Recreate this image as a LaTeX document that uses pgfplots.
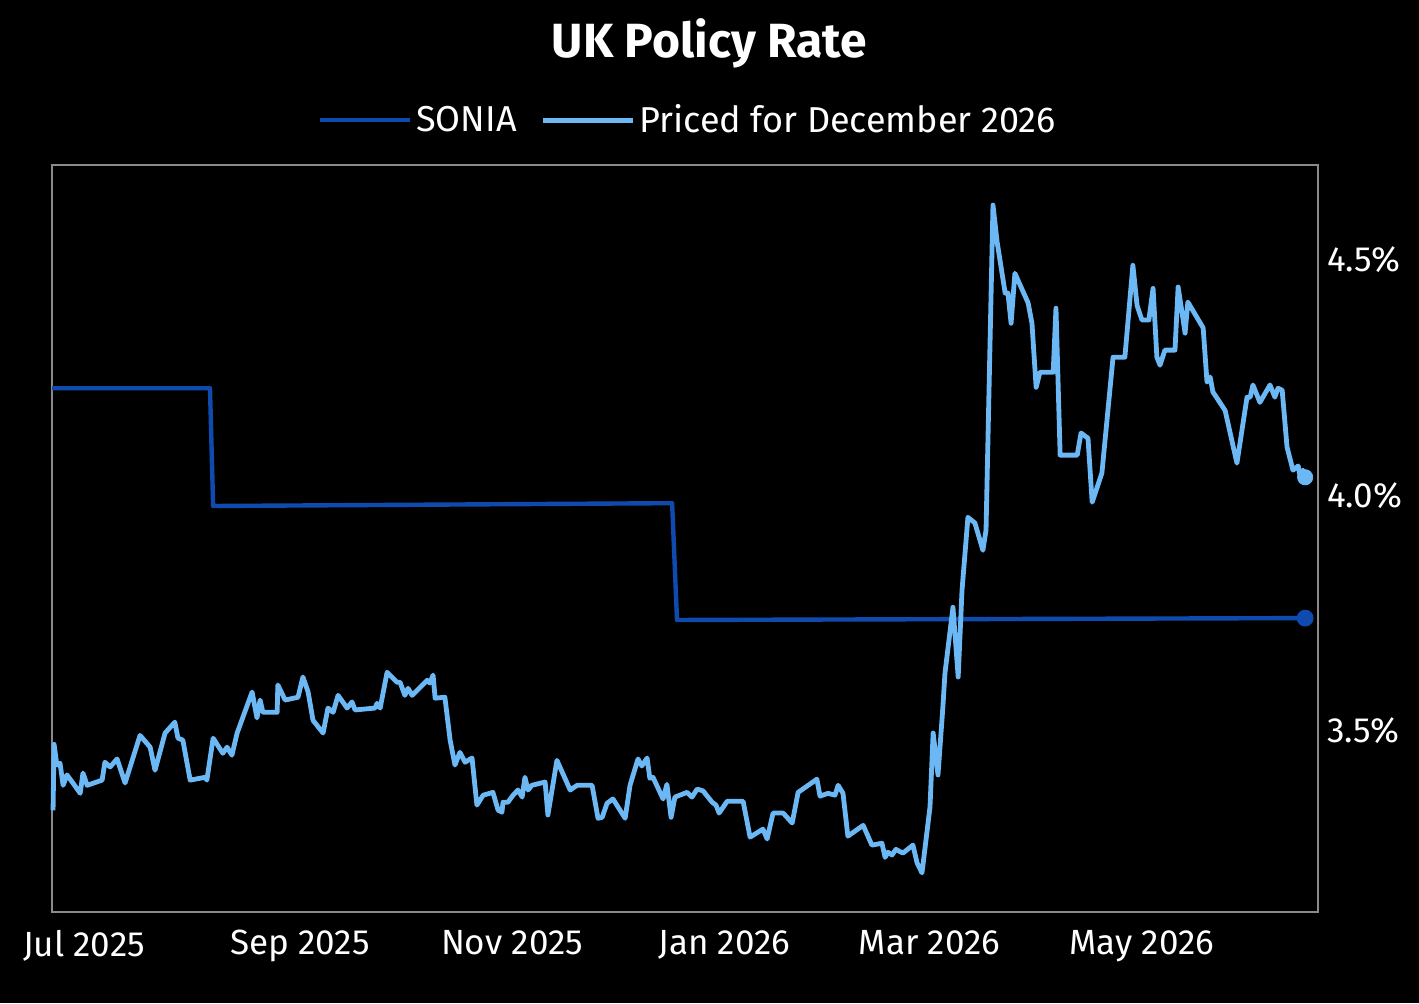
\documentclass[border=0pt]{standalone}
\usepackage{pgfplots}
\pgfplotsset{compat=1.18}
\usepackage{fontspec}
\setmainfont{Fira Sans}
\definecolor{sonia}{HTML}{0F4BAF}
\definecolor{priced}{HTML}{6BB8F5}
\definecolor{framec}{HTML}{8A8A8A}
\begin{document}
\begin{tikzpicture}
\path[fill=black, use as bounding box] (-26pt,-45.5pt) rectangle (683.5pt,456pt);
\begin{axis}[
  at={(0pt,0pt)}, anchor=south west,
  scale only axis, width=633pt, height=373.5pt,
  xmin=-9.2, xmax=354.6, ymin=3.115, ymax=4.701,
  axis line style={framec, line width=0.75pt},
  xtick={0,62,123,184,243,304},
  xticklabels={Jul 2025,Sep 2025,Nov 2025,Jan 2026,Mar 2026,May 2026},
  ytick={3.5,4.0,4.5},
  yticklabel pos=right,
  /pgf/number format/assume math mode=true,
  yticklabel={\pgfmathprintnumber[fixed,fixed zerofill,precision=1]{\tick}\%},
  major tick length=0pt,
  tick label style={text=white, font=\fontsize{17.5}{21}\selectfont},
  xticklabel style={yshift=-5.5pt},
  yticklabel style={xshift=1pt},
  clip=false,
  legend style={draw=none, fill=none, text=white, font=\fontsize{18}{21}\selectfont,
    at={(0.503,1.060)}, anchor=center, legend columns=2,
    /tikz/every even column/.append style={column sep=10pt}},
  legend image code/.code={\draw[#1] (0pt,0pt) -- (42pt,0pt); \path (0pt,0pt) -- (45pt,0pt);},
]
\addplot[sonia, line width=2.2pt, line join=round] coordinates {
(-9.2,4.227) (36.2,4.227) (37.1,3.977) (169.0,3.983) (170.4,3.735) (350.9,3.739)
};
\addlegendentry{SONIA}
\addplot[priced, line width=2.4pt, line join=round] coordinates {
(-8.9,3.331) (-8.6,3.471) (-7.8,3.427) (-6.9,3.431) (-6.0,3.384) (-4.9,3.406) (-3.2,3.389) (-1.1,3.367) (-0.3,3.410) (0.9,3.384)
(5.2,3.395) (6.0,3.433) (7.5,3.423) (9.5,3.440) (11.8,3.389) (16.1,3.490) (19.0,3.465) (20.4,3.416) (23.3,3.495) (26.1,3.518)
(27.0,3.484) (28.4,3.480) (30.5,3.395) (34.8,3.401) (35.3,3.395) (37.1,3.484) (39.9,3.452) (41.1,3.465) (42.5,3.448) (44.0,3.495)
(48.3,3.582) (49.7,3.527) (50.6,3.565) (51.4,3.539) (55.5,3.539) (55.7,3.597) (57.8,3.565) (61.5,3.571) (62.9,3.614) (64.4,3.582)
(65.8,3.522) (68.7,3.495) (70.1,3.548) (71.6,3.539) (73.0,3.575) (75.6,3.548) (77.0,3.561) (77.9,3.544) (83.6,3.548) (84.2,3.558)
(85.1,3.548) (87.1,3.624) (89.9,3.603) (90.8,3.603) (92.2,3.575) (93.1,3.590) (94.3,3.575) (98.6,3.607) (99.4,3.601) (100.3,3.618)
(100.9,3.569) (103.7,3.571) (105.2,3.480) (106.6,3.427) (108.0,3.454) (109.5,3.433) (111.5,3.442) (112.9,3.342) (114.7,3.363) (117.5,3.369)
(119.0,3.331) (120.1,3.327) (120.4,3.348) (121.8,3.348) (123.3,3.363) (124.7,3.374) (125.9,3.359) (126.7,3.401) (127.6,3.374) (128.7,3.384)
(132.5,3.391) (133.3,3.321) (135.9,3.437) (139.7,3.374) (141.7,3.384) (146.0,3.384) (147.7,3.314) (148.9,3.316) (150.3,3.346) (152.0,3.355)
(155.5,3.314) (156.9,3.384) (159.2,3.440) (160.3,3.425) (161.8,3.442) (162.6,3.399) (163.5,3.401) (166.4,3.355) (167.5,3.386) (168.7,3.316)
(169.8,3.359) (173.3,3.369) (174.7,3.359) (176.2,3.376) (177.9,3.372) (180.5,3.348) (181.6,3.342) (182.5,3.325) (184.8,3.350) (189.4,3.350)
(191.4,3.274) (195.1,3.291) (196.3,3.270) (198.0,3.325) (200.9,3.325) (203.5,3.304) (205.2,3.369) (210.6,3.397) (211.5,3.361) (213.8,3.367)
(215.8,3.363) (216.7,3.384) (218.1,3.367) (219.5,3.276) (223.9,3.299) (226.4,3.257) (229.3,3.261) (230.2,3.231) (231.0,3.242) (232.2,3.236)
(233.3,3.248) (235.3,3.240) (238.2,3.257) (239.4,3.219) (240.8,3.198) (243.1,3.338) (244.0,3.495) (245.4,3.406) (246.8,3.550) (247.4,3.622)
(249.7,3.762) (251.2,3.614) (252.3,3.798) (254.0,3.953) (256.0,3.941) (258.3,3.883) (259.2,3.926) (261.2,4.616) (262.4,4.537) (264.7,4.429)
(265.5,4.429) (266.4,4.365) (267.5,4.471) (271.3,4.408) (272.4,4.365) (273.6,4.229) (274.7,4.261) (278.5,4.261) (279.3,4.397) (280.5,4.085)
(285.4,4.085) (286.5,4.132) (288.5,4.121) (289.7,3.985) (292.5,4.047) (295.7,4.293) (299.1,4.293) (301.4,4.488) (302.6,4.403) (304.0,4.372)
(306.0,4.372) (307.2,4.439) (308.3,4.293) (309.2,4.276) (310.6,4.308) (313.5,4.308) (314.4,4.442) (315.5,4.389) (316.4,4.344) (317.2,4.410)
(321.6,4.355) (322.7,4.240) (323.6,4.251) (324.4,4.219) (327.9,4.180) (331.3,4.068) (334.2,4.208) (335.1,4.208) (335.9,4.234) (337.9,4.197)
(340.8,4.234) (342.2,4.208) (343.1,4.227) (344.3,4.223) (345.7,4.102) (347.4,4.053) (348.9,4.062) (349.4,4.042) (350.3,4.053) (350.9,4.038)
};
\addlegendentry{Priced for December 2026}
\addplot[sonia, only marks, mark=*, mark size=4pt, forget plot] coordinates {(350.9,3.739)};
\addplot[priced, only marks, mark=*, mark size=3.8pt, forget plot] coordinates {(350.9,4.038)};
\end{axis}
\node[text=white, font=\bfseries\fontsize{24}{29}\selectfont] at (328.75pt,434.5pt) {UK Policy Rate};
\end{tikzpicture}
\end{document}
